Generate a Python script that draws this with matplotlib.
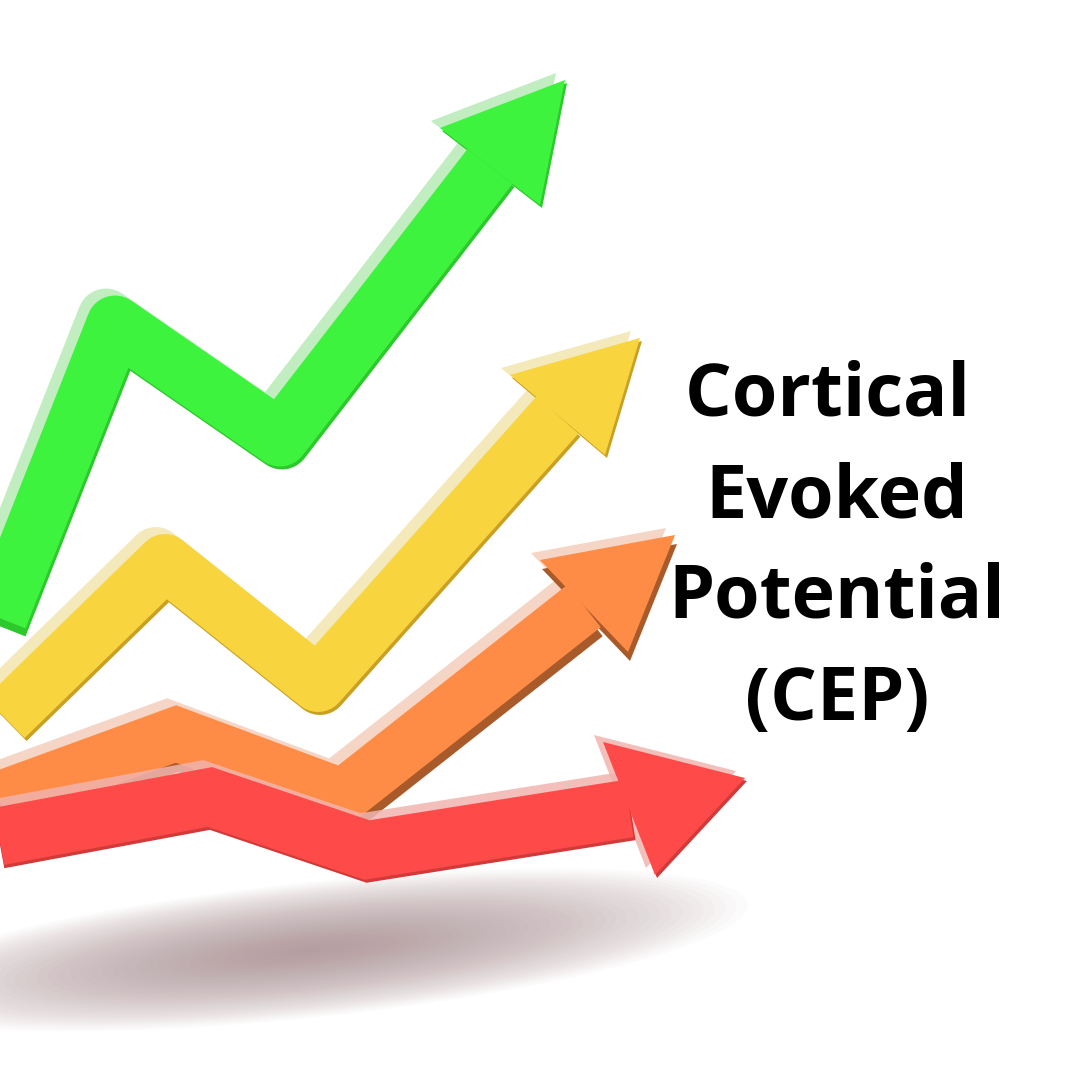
import numpy as np
import matplotlib
matplotlib.use("Agg")
import matplotlib.pyplot as plt
from matplotlib.patches import Polygon, Ellipse

# centre lines of the four zig-zag arrows (pixel coords, y down)
green_x = [-5, 115, 280]
green_y = [628, 324, 438]
green_head = [(440, 128), (565, 80), (540, 205)]

yellow_x = [5, 165, 318]
yellow_y = [718, 562, 684]
yellow_head = [(510, 375), (640, 338), (605, 455)]

orange_x = [-5, 176, 343]
orange_y = [800, 734, 796]
orange_head = [(540, 560), (675, 535), (628, 652)]

red_x = [-10, 210, 367]
red_y = [838, 797, 850]
red_head = [(603, 742), (745, 778), (655, 875)]

title_lines = ["Cortical ", "Evoked", "Potential", "(CEP)"]
title_baselines = [415, 517, 618, 720]

PX = 0.72  # px -> pt at dpi 100


def draw_arrow(ax, xs, ys, head, face, side, rim, width, join, rim_off=(2, 3)):
    c1, tip, c2 = head
    bx = (c1[0] + c2[0]) / 2
    by = (c1[1] + c2[1]) / 2
    px = np.array(list(xs) + [bx])
    py = np.array(list(ys) + [by])
    layers = [(-9, -7, side, 0.85), (rim_off[0], rim_off[1], rim, 1.0), (0, 0, face, 1.0)]
    for dx, dy, col, a in layers:
        ax.plot(px + dx, py + dy, color=col, lw=width * PX, alpha=a,
                solid_joinstyle=join, solid_capstyle="butt", zorder=2)
        ax.add_patch(Polygon([(c1[0] + dx, c1[1] + dy), (tip[0] + dx, tip[1] + dy),
                              (c2[0] + dx, c2[1] + dy)], closed=True,
                             facecolor=col, edgecolor="none", alpha=a, zorder=2))


fig = plt.figure(figsize=(10.8, 10.8), dpi=100)
ax = fig.add_axes([0, 0, 1, 1])
ax.set_xlim(0, 1080)
ax.set_ylim(1080, 0)
ax.axis("off")

# soft shadow under the arrows
n = 40
for i in range(n):
    f = 1 - i / n
    ax.add_patch(Ellipse((310, 950), 880 * f, 135 * f, angle=-6,
                         facecolor="#a4878a", edgecolor="none", alpha=0.03, zorder=1))

draw_arrow(ax, green_x, green_y, green_head, "#3ef33e", "#b6eab6", "#2cc82c", 57, "round")
draw_arrow(ax, yellow_x, yellow_y, yellow_head, "#f8d43e", "#f2e6b0", "#c9a024", 56, "round")
draw_arrow(ax, orange_x, orange_y, orange_head, "#ff8c46", "#f4cfbc", "#a85a2a", 54, "miter",
           rim_off=(2, 9))
draw_arrow(ax, red_x, red_y, red_head, "#ff4a4a", "#f0b4b0", "#d23a3a", 58, "miter")

for line, yb in zip(title_lines, title_baselines):
    ax.text(837, yb, line, ha="center", va="baseline", fontsize=53,
            fontweight="bold", family="Open Sans", color="black", zorder=5)

fig.savefig("out.png", dpi=100, facecolor="white")
